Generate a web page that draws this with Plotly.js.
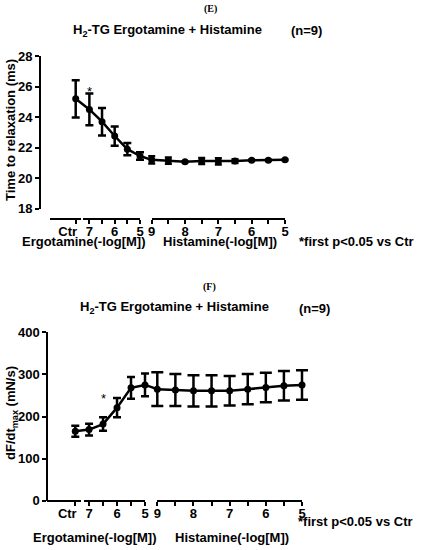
<!DOCTYPE html>
<html>
<head>
<meta charset="utf-8">
<script src="https://cdn.plot.ly/plotly-3.0.1.min.js"></script>
<style>html,body{margin:0;padding:0;background:#fff;}#chart{width:421px;height:550px;}</style>
</head>
<body>
<div id="chart"></div>
<script>
// ---- data ----
const ctrLabel = ['Ctr'];
const ergoDoses = [7, 6.5, 6, 5.5, 5];
const histDoses = [9, 8.5, 8, 7.5, 7, 6.5, 6, 5.5, 5];
const ergoTickVals = [7, 6, 5];
const histTickVals = [9, 8, 7, 6, 5];

// (E) Time to relaxation (ms)
const relaxCtr = [25.2];
const relaxCtrErr = [1.22];
const relaxErgo = [24.5, 23.7, 22.76, 21.9, 21.45];
const relaxErgoErr = [1.04, 0.9, 0.63, 0.4, 0.25];
const relaxHist = [21.2, 21.15, 21.08, 21.12, 21.1, 21.12, 21.17, 21.17, 21.2];
const relaxHistErr = [0.24, 0.2, 0.03, 0.2, 0.2, 0.12, 0.03, 0.03, 0.03];

// (F) dF/dt max (mN/s)
const dfCtr = [165];
const dfCtrErr = [13];
const dfErgo = [169, 182, 221, 268, 275];
const dfErgoErr = [14, 16, 23, 26, 27];
const dfHist = [265, 263, 261, 261, 261, 265, 269, 273, 275];
const dfHistErr = [40, 38, 37, 37, 35, 36, 35, 35, 35];

// ---- layout helpers ----
const W = 421, H = 550;
const X = px => px / W;
const Y = py => 1 - py / H;
const FONT = 'Liberation Sans, Arial, Helvetica, sans-serif';
const SERIF = 'Liberation Serif, Times New Roman, serif';
const TICKFONT = {family: FONT, size: 13, color: 'black', weight: 'bold'};

function segAxis(dom, posPy, range, standoff, extra) {
  return Object.assign({
    domain: [X(dom[0]), X(dom[1])], anchor: 'free', position: Y(posPy), range: range,
    showline: true, linecolor: 'black', linewidth: 2,
    ticks: 'outside', ticklen: 4, tickwidth: 2, tickcolor: 'black',
    ticklabelstandoff: standoff,
    showgrid: false, zeroline: false, fixedrange: true, tickfont: TICKFONT
  }, extra || {});
}
const minorTicks = {dtick: 0.5, ticks: 'outside', ticklen: 4, tickwidth: 2, tickcolor: 'black', showgrid: false};

function yAx(dom, posPx, range, dtick) {
  return {
    domain: [Y(dom[1]), Y(dom[0])], anchor: 'free', position: X(posPx), range: range, dtick: dtick,
    showline: true, linecolor: 'black', linewidth: 2,
    ticks: 'outside', ticklen: 4, tickwidth: 2, tickcolor: 'black',
    showgrid: false, zeroline: false, fixedrange: true, tickfont: TICKFONT
  };
}
// hidden full-width axis with the same scale as a visible segment axis (so caps are not clipped)
function fullAxis(ax) {
  const d0 = ax.domain[0], d1 = ax.domain[1], r0 = ax.range[0], r1 = ax.range[1];
  const k = (r1 - r0) / (d1 - d0);
  const o = {domain: [0, 1], range: [r0 - d0 * k, r0 + (1 - d0) * k], visible: false, fixedrange: true, anchor: 'free', position: 0};
  if (ax.type) o.type = ax.type;
  return o;
}
function paperX(ax, v) {
  return ax.domain[0] + (v - ax.range[0]) / (ax.range[1] - ax.range[0]) * (ax.domain[1] - ax.domain[0]);
}

// axes for (E)
const axE = {
  ctr: segAxis([50, 80.7], 219.3, [-0.837, 0.163], -4, {type: 'category', ticklabelshift: -8}),
  ergo: segAxis([83.3, 140], 219.3, [7.24, 5], -4, {tickmode: 'array', tickvals: ergoTickVals, minor: minorTicks}),
  hist: segAxis([151.7, 285], 219.3, [9, 5], -4, {tickmode: 'array', tickvals: histTickVals, minor: minorTicks})
};
// axes for (F)
const axF = {
  ctr: segAxis([47.3, 80.7], 500.7, [-0.838, 0.162], -3, {type: 'category', ticklabelshift: -8}),
  ergo: segAxis([84.3, 145], 500.7, [7.17, 5], -3, {tickmode: 'array', tickvals: ergoTickVals, minor: minorTicks}),
  hist: segAxis([157.3, 302], 500.7, [9, 5], -3, {tickmode: 'array', tickvals: histTickVals, minor: minorTicks})
};

function seg(x, y, err, xa, ya, capw) {
  return {
    x: x, y: y, xaxis: xa, yaxis: ya, type: 'scatter', mode: 'lines+markers',
    line: {color: 'black', width: 2.5}, marker: {color: 'black', size: 7},
    error_y: {type: 'data', array: err, visible: true, color: 'black', thickness: 2.5, width: capw},
    cliponaxis: false, showlegend: false, hoverinfo: 'skip'
  };
}
// invisible trace so each visible segment axis owns a subplot and is drawn
function holder(x, y, xa, ya) {
  return {x: x, y: y, xaxis: xa, yaxis: ya, type: 'scatter', mode: 'markers',
          marker: {opacity: 0, size: 1}, showlegend: false, hoverinfo: 'skip'};
}
function connector(ax, ctrY, ergoY, histY, ya) {
  return {
    x: [paperX(ax.ctr, 0), paperX(ax.ergo, ergoDoses[0]), null,
        paperX(ax.ergo, ergoDoses[ergoDoses.length - 1]), paperX(ax.hist, histDoses[0])],
    y: [ctrY[0], ergoY[0], null, ergoY[ergoY.length - 1], histY[0]],
    xaxis: 'x7', yaxis: ya, type: 'scatter', mode: 'lines',
    line: {color: 'black', width: 2.5}, showlegend: false, hoverinfo: 'skip'
  };
}

const data = [
  holder(ctrLabel, relaxCtr, 'x', 'y'),
  holder(ergoDoses, relaxErgo, 'x2', 'y'),
  holder(histDoses, relaxHist, 'x3', 'y'),
  holder(ctrLabel, dfCtr, 'x4', 'y2'),
  holder(ergoDoses, dfErgo, 'x5', 'y2'),
  holder(histDoses, dfHist, 'x6', 'y2'),
  connector(axE, relaxCtr, relaxErgo, relaxHist, 'y'),
  seg(ctrLabel, relaxCtr, relaxCtrErr, 'x8', 'y', 4),
  seg(ergoDoses, relaxErgo, relaxErgoErr, 'x9', 'y', 4),
  seg(histDoses, relaxHist, relaxHistErr, 'x10', 'y', 3.5),
  connector(axF, dfCtr, dfErgo, dfHist, 'y2'),
  seg(ctrLabel, dfCtr, dfCtrErr, 'x11', 'y2', 4),
  seg(ergoDoses, dfErgo, dfErgoErr, 'x12', 'y2', 4),
  seg(histDoses, dfHist, dfHistErr, 'x13', 'y2', 6)
];

function ann(text, xpx, ypy, size, extra) {
  return Object.assign({
    text: text, xref: 'paper', yref: 'paper', x: X(xpx), y: Y(ypy),
    xanchor: 'center', yanchor: 'middle', showarrow: false,
    font: {family: FONT, size: size, color: 'black', weight: 'bold'}
  }, extra || {});
}

const annotations = [
  ann('(E)', 210, 9, 10, {font: {family: SERIF, size: 10, color: 'black', weight: 'bold'}}),
  ann('H<sub>2</sub>-TG Ergotamine + Histamine', 167.5, 30, 13),
  ann('(n=9)', 306.5, 30, 13),
  ann('Time to relaxation (ms)', 11, 130, 13, {textangle: -90}),
  ann('Ergotamine(-log[M])', 83.5, 241, 13),
  ann('Histamine(-log[M])', 220, 242, 13),
  ann('*first p<0.05 vs Ctr', 356.5, 241, 13),
  {text: '*', xref: 'x2', yref: 'y', x: ergoDoses[0], y: relaxErgo[0] + relaxErgoErr[0],
   xanchor: 'center', yanchor: 'middle', yshift: 2, showarrow: false,
   font: {family: FONT, size: 13, color: 'black'}},

  ann('(F)', 209, 287, 10, {font: {family: SERIF, size: 10, color: 'black', weight: 'bold'}}),
  ann('H<sub>2</sub>-TG Ergotamine + Histamine', 174, 307, 13),
  ann('(n=9)', 314, 308, 13),
  ann('dF/dt<sub>max</sub> (mN/s)', 11, 413, 13, {textangle: -90}),
  ann('Ergotamine(-log[M])', 94, 537, 13),
  ann('Histamine(-log[M])', 232, 537, 13),
  ann('*first p<0.05 vs Ctr', 355, 521, 13),
  {text: '*', xref: 'x5', yref: 'y2', x: ergoDoses[1], y: dfErgo[1] + dfErgoErr[1],
   xanchor: 'center', yanchor: 'middle', yshift: 19, showarrow: false,
   font: {family: FONT, size: 13, color: 'black'}}
];

const layout = {
  width: W, height: H, margin: {l: 0, r: 0, t: 0, b: 0, pad: 0},
  paper_bgcolor: 'white', plot_bgcolor: 'rgba(0,0,0,0)',
  showlegend: false, font: {family: FONT, color: 'black'},
  xaxis: axE.ctr, xaxis2: axE.ergo, xaxis3: axE.hist,
  xaxis4: axF.ctr, xaxis5: axF.ergo, xaxis6: axF.hist,
  xaxis7: {domain: [0, 1], range: [0, 1], visible: false, anchor: 'free', position: 0, fixedrange: true},
  xaxis8: fullAxis(axE.ctr), xaxis9: fullAxis(axE.ergo), xaxis10: fullAxis(axE.hist),
  xaxis11: fullAxis(axF.ctr), xaxis12: fullAxis(axF.ergo), xaxis13: fullAxis(axF.hist),
  yaxis: yAx([56, 208.7], 40, [18, 28], 2),
  yaxis2: yAx([332.3, 500.7], 47.3, [0, 400], 100),
  annotations: annotations
};

Plotly.newPlot('chart', data, layout, {staticPlot: true, displayModeBar: false});
</script>
</body>
</html>
